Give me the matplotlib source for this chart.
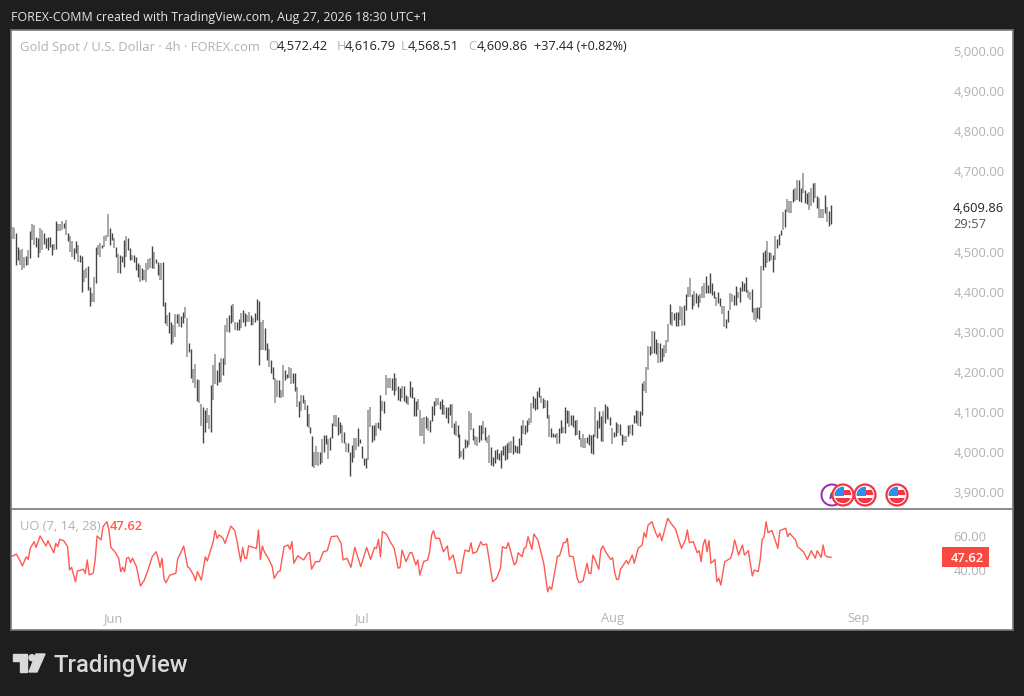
import numpy as np
import matplotlib
matplotlib.use("Agg")
import matplotlib.pyplot as plt
from matplotlib.patches import Rectangle, Circle, Polygon

plt.rcParams["font.family"] = ["Open Sans", "DejaVu Sans"]

# 4h bars
highs = [
    4560, 4558, 4547, 4512, 4504, 4506, 4487, 4489, 4504, 4550,
    4569, 4566, 4537, 4533, 4558, 4554, 4545, 4533, 4535, 4535,
    4520, 4520, 4577, 4569, 4569, 4577, 4572, 4579, 4545, 4539,
    4525, 4508, 4525, 4516, 4491, 4489, 4454, 4458, 4464, 4411, 4397,
    4436, 4512, 4516, 4522, 4516, 4539, 4541, 4594, 4558, 4545,
    4533, 4512, 4494, 4491, 4489, 4529, 4539, 4533, 4508, 4491,
    4491, 4486, 4471, 4466, 4458, 4454, 4471, 4481, 4483, 4514, 4500,
    4481, 4475, 4466, 4471, 4475, 4375, 4342, 4350, 4325, 4317,
    4344, 4344, 4344, 4338, 4348, 4361, 4333, 4271, 4256, 4206,
    4220, 4181, 4180, 4120, 4113, 4105, 4109, 4092,
    4167, 4217, 4245, 4205, 4225, 4234, 4234, 4317, 4333, 4342,
    4367, 4368, 4325, 4325, 4331, 4346, 4353, 4346, 4342, 4348,
    4342, 4333, 4346, 4381, 4377, 4325, 4328, 4308, 4273, 4256,
    4230, 4211, 4184, 4180, 4180, 4155, 4217, 4205, 4195, 4211,
    4209, 4196, 4196, 4161, 4126, 4142, 4142, 4130, 4117, 4095,
    4063, 4040, 4001, 4015, 3999, 4001, 4032, 4043, 4043, 4032,
    4038, 4073, 4092, 4092, 4087, 4076, 4067, 4051, 4023, 4022,
    4001, 4018, 4034, 4034, 4059, 4032, 4015, 3984, 3984, 4105,
    4113, 4067, 4067, 4072, 4076, 4142, 4126, 4126, 4192, 4184,
    4184, 4184, 4198, 4184, 4165, 4159, 4165, 4165, 4142, 4138,
    4178, 4163, 4138, 4128, 4131, 4105,
    4084, 4088, 4090, 4086, 4080, 4115, 4126, 4134, 4134, 4126,
    4131, 4117, 4113, 4113, 4119, 4119, 4073, 4078, 4067, 4045,
    4003, 4009, 4032, 4030, 4101, 4098, 4059, 4040, 4037, 4067,
    4067, 4078, 4063, 4038, 4042, 4013, 3988, 4005, 4007,
    3997, 4005, 4015, 4017, 4022, 4026, 4028, 4040, 4017, 4015,
    4034, 4067, 4081, 4067, 4080, 4084, 4123, 4140, 4134, 4153,
    4163, 4140, 4134, 4130, 4130, 4092, 4059, 4047, 4045, 4048,
    4059, 4080, 4063, 4113, 4105, 4103, 4092, 4092, 4081, 4080,
    4055, 4034, 4045, 4034, 4037, 4045, 4042, 4045, 4113, 4080,
    4101, 4090, 4101, 4120, 4115, 4109, 4088, 4059, 4051,
    4076, 4070, 4070, 4045, 4040, 4040, 4067, 4067, 4070, 4092,
    4105,
    4101, 4101, 4171, 4178, 4211, 4264, 4264, 4303, 4303, 4281,
    4273, 4273, 4259, 4267, 4279, 4319, 4369, 4350, 4346, 4350,
    4350, 4363, 4361, 4367, 4394, 4412, 4433, 4394, 4402, 4397,
    4392, 4394, 4414, 4422, 4439, 4417, 4447, 4421, 4402, 4386,
    4400, 4383, 4363, 4363, 4331, 4354, 4396, 4394, 4392, 4414,
    4400, 4412, 4427, 4421, 4436, 4404, 4400, 4406, 4358, 4358,
    4361, 4361, 4464, 4500, 4504, 4525, 4500, 4496, 4491, 4539,
    4530, 4544, 4554, 4599, 4605, 4630, 4627, 4627, 4655, 4658,
    4678, 4678, 4658, 4695, 4653, 4647, 4649, 4658, 4670, 4670,
    4638, 4633, 4605, 4605, 4641, 4612, 4600, 4616.79,
]
lows = [
    4530, 4530, 4466, 4479, 4466, 4454, 4458, 4466, 4466, 4483,
    4529, 4516, 4512, 4487, 4496, 4504, 4520, 4508, 4504, 4512,
    4491, 4504, 4506, 4550, 4550, 4554, 4558, 4541, 4525, 4500,
    4487, 4481, 4496, 4475, 4475, 4400, 4425, 4433, 4404, 4365, 4373,
    4373, 4421, 4491, 4487, 4508, 4512, 4525, 4537, 4516, 4529,
    4508, 4487, 4446, 4446, 4475, 4462, 4487, 4504, 4479, 4479,
    4475, 4454, 4437, 4425, 4429, 4429, 4425, 4454, 4458, 4458, 4456,
    4471, 4441, 4429, 4429, 4363, 4321, 4313, 4298, 4270, 4271,
    4286, 4321, 4311, 4311, 4321, 4333, 4236, 4250, 4184, 4171,
    4159, 4128, 4122, 4065, 4022, 4051, 4072, 4057,
    4051, 4130, 4170, 4167, 4175, 4175, 4192, 4217, 4300, 4300,
    4321, 4325, 4304, 4304, 4304, 4308, 4325, 4313, 4325, 4325,
    4317, 4317, 4325, 4329, 4217, 4254, 4254, 4254, 4230, 4213,
    4196, 4181, 4122, 4138, 4138, 4134, 4136, 4180, 4184, 4184,
    4170, 4171, 4151, 4113, 4088, 4101, 4122, 4105, 4065, 4059,
    4047, 3964, 3959, 3968, 3964, 3970, 3972, 3999, 4020, 3982,
    4005, 4034, 4065, 4063, 4043, 4048, 4023, 4023, 3999, 4001,
    3940, 3974, 3984, 4005, 4014, 4022, 3984, 3968, 3959, 3980,
    4063, 4026, 4030, 4040, 4059, 4055, 4101, 4097, 4142, 4159,
    4159, 4155, 4142, 4151, 4130, 4126, 4134, 4126, 4122, 4117,
    4138, 4134, 4090, 4090, 4105, 4040,
    4040, 4020, 4059, 4053, 4051, 4078, 4092, 4115, 4117, 4106,
    4095, 4092, 4084, 4073, 4092, 4059, 4045, 4040, 4038, 3984,
    3987, 3982, 4009, 4012, 4017, 4055, 4030, 4017, 4015, 4026,
    4030, 4045, 4030, 4022, 3972, 3968, 3965, 3972, 3982,
    3980, 3959, 3993, 3980, 3982, 3997, 3998, 3995, 4001, 3997,
    3997, 4017, 4045, 4045, 4051, 4067, 4073, 4109, 4105, 4106,
    4138, 4123, 4109, 4109, 4084, 4038, 4038, 4038, 4037, 4020,
    4022, 4048, 4048, 4048, 4072, 4063, 4067, 4063, 4042, 4042,
    4032, 4012, 4009, 4009, 4022, 4017, 3998, 3995, 4037, 4034,
    4059, 4028, 4026, 4072, 4084, 4081, 4067, 4020, 4038,
    4040, 4047, 4042, 4017, 4026, 4026, 4040, 4045, 4042, 4072,
    4072,
    4065, 4065, 4093, 4151, 4148, 4205, 4242, 4245, 4248, 4245,
    4223, 4225, 4228, 4238, 4246, 4275, 4319, 4314, 4329, 4314,
    4314, 4329, 4314, 4317, 4354, 4387, 4386, 4356, 4364, 4371,
    4361, 4371, 4383, 4383, 4396, 4396, 4397, 4392, 4383, 4363,
    4371, 4364, 4344, 4311, 4309, 4325, 4354, 4375, 4367, 4367,
    4383, 4375, 4402, 4402, 4400, 4383, 4378, 4350, 4328, 4323,
    4333, 4331, 4358, 4454, 4462, 4472, 4477, 4479, 4450, 4479,
    4508, 4516, 4541, 4554, 4562, 4599, 4595, 4595, 4624, 4627,
    4629, 4627, 4624, 4647, 4620, 4619, 4604, 4614, 4624, 4633,
    4608, 4583, 4583, 4583, 4595, 4574, 4564, 4568.51,
]
# u = grey bar, d = dark bar, same rows as the price lists
bar_dirs = "".join([
    "uudduuudud", "uudduudddd", "duduuududu", "uddu", "d", "duuddu", "uduuduuudd",
    "ududdduddu", "ddduduuu", "u", "du", "dduudduddu", "ududduuddu", "uduudduu",
    "duudduduud", "duuddudduu", "duddduuddu", "dduuduuddu", "uddudududu",
    "dduuududdu", "dduuddudud", "dduudddddu", "uddudduduu", "uddudduddu", "dddduu",
    "uududdduud", "dudddududd", "uddduuduud", "dudu", "udddd", "ddddduuddd",
    "ddudduuddd", "dudududddu", "ddudd", "udddu", "duuuddddud", "ddudd", "udud",
    "duddu", "ududd", "d",
    "udduuududd", "udduuududd", "duudduudud", "duuudddddu", "dduudduudd",
    "uddddu", "uduu", "ddudd", "ududu", "dddud", "uuudu", "uddud", "duudu", "duuududd",
])
bar_up = np.array([c == "u" for c in bar_dirs])

# Ultimate Oscillator samples (bar number, value)
uo_bars = [
    0, 2, 4, 5, 7, 8, 9, 11, 12, 14, 17, 18, 19, 21, 22, 23, 24, 26, 28, 29,
    30, 32, 33, 35, 36, 37, 38, 39, 41, 42, 43, 45, 46, 48, 49, 50, 52, 54, 55, 56,
    57, 58, 59, 60, 61, 63, 65, 67, 69, 71, 73, 74, 75, 76, 77, 78, 80, 83, 84, 85,
    87, 89, 90, 92, 93, 94, 96, 98, 99, 102, 103, 104, 105, 107, 108, 111, 113, 114, 116, 117,
    118, 119, 120, 124, 125, 126, 127, 128, 130, 132, 133, 135, 136, 138, 140, 141, 142, 143, 145, 148,
    150, 151, 152, 154, 156, 157, 158, 160, 162, 165, 167, 168, 170, 172, 174, 177, 180, 182, 184, 185,
    186, 187, 188, 190, 192, 194, 196, 197, 198, 200, 202, 203, 205, 206, 207, 209, 211, 212, 213, 214,
    215, 217, 219, 221, 222, 224, 226, 228, 229, 230, 232, 233, 234, 236, 238, 239, 241, 244, 246, 248,
    249, 251, 252, 255, 256, 257, 259, 260, 261, 262, 264, 265, 267, 270, 272, 273, 274, 277, 278, 280,
    281, 282, 283, 285, 287, 288, 290, 292, 293, 294, 295, 296, 298, 299, 300, 302, 304, 305, 306, 307,
    308, 309, 312, 313, 315, 316, 318, 320, 321, 322, 323, 325, 327, 328, 329, 330, 333, 335, 337, 340,
    342, 343, 344, 346, 348, 349, 350, 351, 352, 353, 354, 355, 357, 358, 359, 360, 362, 365, 366, 367,
    368, 369, 371, 372, 374, 376, 377, 379, 380, 381, 382, 383, 384, 386, 389, 390, 393, 394, 395, 398,
    399, 402, 404, 406, 408, 409, 411, 412, 413, 414, 416,
]
uo_values = [
    48.3, 49.5, 45.0, 42.4, 47.9, 46.3, 52.9, 56.9, 53.5, 60.3, 54.3, 57.5, 54.9, 50.3, 55.9, 53.9, 58.3, 57.5, 53.9, 40.0,
    41.6, 33.0, 39.4, 40.0, 40.4, 38.0, 46.0, 37.0, 38.0, 46.0, 60.3, 57.9, 65.9, 68.8, 63.9, 53.5, 50.9, 47.0, 39.0, 41.6,
    39.0, 47.0, 47.5, 44.4, 47.0, 42.0, 30.4, 34.0, 40.4, 47.9, 50.9, 47.0, 41.6, 47.0, 35.0, 32.4, 37.0, 38.0, 47.0, 48.9,
    54.3, 42.0, 41.0, 37.0, 33.6, 39.0, 34.0, 47.9, 45.4, 56.9, 63.5, 58.9, 60.9, 58.9, 55.9, 66.2, 63.5, 57.9, 45.0, 53.5,
    47.0, 47.0, 54.3, 52.9, 63.9, 46.3, 54.3, 50.9, 47.0, 42.0, 35.0, 39.0, 39.4, 53.9, 54.9, 52.3, 56.9, 44.0, 48.5, 46.0,
    49.9, 50.5, 40.4, 45.0, 45.0, 47.9, 50.9, 51.5, 59.9, 60.3, 55.9, 46.0, 47.0, 41.6, 53.5, 42.0, 53.5, 46.3, 53.5, 52.9,
    58.3, 47.9, 62.9, 61.5, 56.9, 52.9, 41.0, 41.6, 51.9, 45.0, 50.3, 50.3, 43.0, 46.0, 37.0, 45.0, 46.0, 50.9, 60.9, 63.5,
    58.9, 58.9, 50.9, 54.3, 46.0, 48.9, 38.0, 38.4, 46.0, 51.9, 50.9, 56.3, 49.9, 50.9, 56.9, 54.9, 55.5, 33.0, 35.0, 41.0,
    53.9, 52.9, 56.3, 43.0, 44.4, 50.3, 47.9, 52.9, 53.5, 59.9, 52.3, 61.5, 57.9, 44.0, 27.0, 30.0, 28.4, 48.3, 48.3, 56.3,
    56.3, 58.9, 48.3, 47.9, 35.0, 32.4, 33.6, 44.0, 38.0, 38.0, 48.9, 46.3, 40.4, 51.9, 54.3, 49.9, 46.3, 47.3, 39.0, 34.4,
    34.4, 40.4, 45.6, 43.6, 48.9, 44.0, 52.9, 54.9, 62.3, 59.5, 66.8, 68.8, 61.9, 59.5, 61.9, 57.5, 70.8, 67.4, 64.3, 52.9,
    57.9, 63.9, 56.3, 56.9, 50.3, 51.5, 45.0, 54.9, 58.3, 50.9, 57.5, 44.0, 46.3, 33.0, 35.0, 31.0, 45.0, 47.0, 50.9, 57.9,
    53.9, 48.9, 54.9, 48.9, 51.5, 36.4, 40.0, 39.0, 46.0, 57.9, 59.9, 68.8, 62.3, 63.5, 52.9, 63.5, 64.9, 59.9, 61.9, 57.9,
    53.9, 50.9, 46.3, 51.5, 47.0, 51.5, 47.5, 54.9, 48.9, 47.9, 47.62,
]

price_ticks = [3900, 4000, 4100, 4200, 4300, 4400, 4500, 4700, 4800, 4900, 5000]
price_labels = ["3,900.00", "4,000.00", "4,100.00", "4,200.00", "4,300.00", "4,400.00",
                "4,500.00", "4,700.00", "4,800.00", "4,900.00", "5,000.00"]
uo_ticks = [40, 60]
uo_labels = ["40.00", "60.00"]
month_bars = [51, 176, 302, 426]
month_names = ["Jun", "Jul", "Aug", "Sep"]

open_px, high_px, low_px, last_px = 4572.42, 4616.79, 4568.51, 4609.86
uo_last = 47.62

DARK = "#1e1e1e"
BAR_DARK = "#454545"
BAR_GREY = "#a8a8a8"
AXIS_GREY = "#b2b2b2"
RED = "#ff5a52"


def fx(px):
    return px / 1024


def fy(py):
    return 1 - py / 696


fig = plt.figure(figsize=(10.24, 6.96), dpi=100, facecolor=DARK)

# white chart panel
fig.patches.append(Rectangle((fx(11), fy(630)), fx(1013) - fx(11), fy(30) - fy(630),
                             transform=fig.transFigure, facecolor="white",
                             edgecolor="#787878", linewidth=1.2, zorder=-5))

highs = np.array(highs)
lows = np.array(lows)
n = len(highs)
bars = np.arange(n)
px_per_bar = (831 - 12.5) / (n - 1)
x_left = (11 - 12.5) / px_per_bar
x_right = (945 - 12.5) / px_per_bar

ax = fig.add_axes([fx(11), fy(508), fx(945) - fx(11), fy(30) - fy(508)])
ax.patch.set_alpha(0)
ax.vlines(bars[bar_up], lows[bar_up], highs[bar_up], color=BAR_GREY, linewidth=1.4)
ax.vlines(bars[~bar_up], lows[~bar_up], highs[~bar_up], color=BAR_DARK, linewidth=1.0)
ax.set_xlim(x_left, x_right)
ax.set_ylim(3860.3, 5052.5)
ax.set_xticks([])
ax.yaxis.tick_right()
ax.set_yticks(price_ticks)
ax.set_yticklabels(price_labels, va="center_baseline")
ax.tick_params(axis="y", length=0, pad=6, labelsize=9.3, labelcolor=AXIS_GREY)
for s in ax.spines.values():
    s.set_visible(False)

ax2 = fig.add_axes([fx(11), fy(605), fx(945) - fx(11), fy(510) - fy(605)])
ax2.patch.set_alpha(0)
# samples were counted at a slightly tighter bar spacing than the price bars
uo_pos = np.array(uo_bars) * (n - 1) / uo_bars[-1]
ax2.plot(uo_pos, uo_values, color=RED, linewidth=1.0)
ax2.set_xlim(x_left, x_right)
ax2.set_ylim(19.1, 75.8)
ax2.yaxis.tick_right()
ax2.set_yticks(uo_ticks)
ax2.set_yticklabels(uo_labels, va="center_baseline")
ax2.set_xticks(month_bars)
ax2.set_xticklabels(month_names)
ax2.tick_params(axis="y", length=0, pad=6, labelsize=9.3, labelcolor=AXIS_GREY)
ax2.tick_params(axis="x", length=0, pad=5, labelsize=9.3, labelcolor=AXIS_GREY)
for s in ax2.spines.values():
    s.set_visible(False)

# overlay in pixel coordinates for header, legends, icons and logo
ov = fig.add_axes([0, 0, 1, 1], zorder=5)
ov.set_xlim(0, 1024)
ov.set_ylim(696, 0)
ov.axis("off")
ov.patch.set_alpha(0)

ov.plot([11, 1013], [509, 509], color="#787878", linewidth=1.2)

ov.text(11, 17, "FOREX-COMM created with TradingView.com, Aug 27, 2026 18:30 UTC+1",
        color="#e6e6e6", fontsize=8.95, va="center", ha="left")

ov.text(20, 47, "Gold Spot / U.S. Dollar · 4h · FOREX.com", color=AXIS_GREY, fontsize=9.35,
        va="center", ha="left")
for letter, lx, value, vx in [("O", 268, open_px, 277), ("H", 337, high_px, 345),
                              ("L", 401, low_px, 408), ("C", 468, last_px, 477)]:
    ov.text(lx, 47, letter, color=AXIS_GREY, fontsize=9.3, va="center", ha="left")
    ov.text(vx, 47, f"{value:,.2f}", color="#222222", fontsize=9.3, va="center", ha="left")
ov.text(534, 47, "+37.44 (+0.82%)", color="#222222", fontsize=9.1, va="center", ha="left")

ov.text(20, 527, "UO (7, 14, 28)", color=AXIS_GREY, fontsize=9.3, va="center", ha="left")
ov.text(110, 527, f"{uo_last:.2f}", color=RED, fontsize=9.3, va="center", ha="left",
        fontweight="semibold")

ov.text(953, 208.5, f"{last_px:,.2f}", color="#222222", fontsize=9.3, va="center", ha="left")
ov.text(953, 224.5, "29:57", color="#555555", fontsize=9.3, va="center", ha="left")

ov.add_patch(Rectangle((942, 547), 47, 20, facecolor="#f84a40", edgecolor="none"))
ov.text(951, 558, f"{uo_last:.2f}", color="white", fontsize=9.3, va="center", ha="left",
        fontweight="semibold")

# event markers
ov.add_patch(Circle((832, 495), 10.5, facecolor="white", edgecolor="#9c27b0", linewidth=1.4))
ov.add_patch(Polygon([[831, 494], [835, 489], [834, 494], [830, 499]], color="#9c27b0"))
for cx in [843, 865, 897]:
    ov.add_patch(Circle((cx, 495), 10.5, facecolor="white", edgecolor="#f23645", linewidth=1.6))
    inner = Circle((cx, 495), 8.3, facecolor="white", edgecolor="none")
    ov.add_patch(inner)
    for top, h in [(490, 5), (498, 5)]:
        r = Rectangle((cx - 10, top), 20, h, facecolor="#f23645", edgecolor="none")
        ov.add_patch(r)
        r.set_clip_path(inner)
    canton = Rectangle((cx - 9, 486), 9.5, 10, facecolor="#2f8fe8", edgecolor="none")
    ov.add_patch(canton)
    canton.set_clip_path(inner)

# TradingView logo
LOGO = "#d9d9d9"
ov.add_patch(Polygon([[13, 654], [27, 654], [27, 672], [20, 672], [20, 661], [13, 661]], color=LOGO))
ov.add_patch(Circle((32, 657.7), 3.0, color=LOGO))
ov.add_patch(Polygon([[36, 654], [45, 654], [37, 672], [29, 672]], color=LOGO))
ov.text(53, 665.5, "TradingView", color=LOGO, fontsize=17.2, va="center", ha="left",
        family="Roboto", fontweight="medium")

fig.savefig("out.png", dpi=100, facecolor=DARK)
